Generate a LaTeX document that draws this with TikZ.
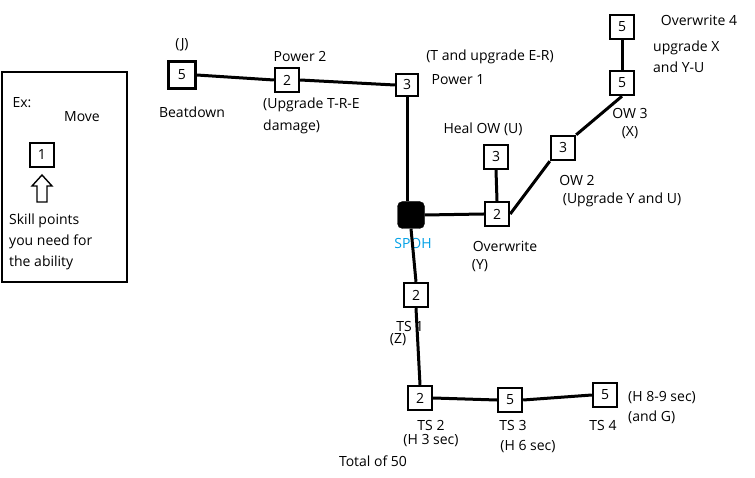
\documentclass[tikz,border=0pt]{standalone}
\usepackage{fontspec}
\setmainfont{Open Sans}
\usetikzlibrary{arrows.meta}

\begin{document}
\begin{tikzpicture}[x=1pt,y=-1pt,
    box/.style={draw,line width=2.4pt,minimum size=24pt,inner sep=0pt,font=\fontsize{14}{16}\selectfont},
    lbl/.style={font=\fontsize{14}{16}\selectfont,inner sep=0pt,align=left},
    link/.style={line width=3pt}]
    \useasboundingbox (0,0) rectangle (755,478);

	% Legend
	\draw[line width=2.2pt] (2,72) rectangle (127,282);
	\node[lbl] at (22,103) {Ex:};
	\node[lbl] at (82,117) {Move};
	\node[box] (ex) at (42,155) {1};
	\draw[line width=1.4pt] (37,202) -- (37,186) -- (32,186) -- (42,175) -- (52,186) -- (47,186) -- (47,202) -- cycle;
	\node[lbl,anchor=west,font=\fontsize{14}{21}\selectfont] at (9,242) {Skill points\\you need for\\the ability};

	% Power branch
	\node[box,minimum size=27pt] (beat) at (182,75) {5};
	\node[lbl] at (182,45) {(J)};
	\node[lbl] at (192,112) {Beatdown};
	\node[box] (pw2) at (287,80) {2};
	\node[lbl] at (300,57) {Power 2};
	\node[lbl,anchor=west,font=\fontsize{14}{22}\selectfont] at (263,116) {(Upgrade T-R-E\\damage)};
	\node[box,minimum size=22pt] (pw1) at (407,85) {3};
	\node[lbl] at (490,57) {(T and upgrade E-R)};
	\node[lbl] at (458,80) {Power 1};

	% Centre
	\node[fill,draw,rounded corners=5pt,minimum size=27pt] (spoh) at (411,215) {};
	\node[lbl,text={rgb,255:red,0;green,160;blue,230}] at (413,243) {SPOH};

	% Overwrite branch
	\node[box] (ow) at (497,214) {2};
	\node[lbl] at (505,246) {Overwrite};
	\node[lbl] at (480,266) {(Y)};
	\node[box] (heal) at (496,157) {3};
	\node[lbl] at (483,129) {Heal OW (U)};
	\node[box] (ow2) at (563,148) {3};
	\node[lbl] at (577,180) {OW 2};
	\node[lbl] at (622,200) {(Upgrade Y and U)};
	\node[box] (ow3) at (622,83) {5};
	\node[lbl] at (630,113) {OW 3};
	\node[lbl] at (630,133) {(X)};
	\node[box] (ow4) at (622,27) {5};
	\node[lbl] at (699,20) {Overwrite 4};
	\node[lbl,align=left,anchor=west,font=\fontsize{14}{21}\selectfont] at (653,57) {upgrade X\\and Y-U};

	% TS branch
	\node[box] (ts1) at (416,295) {2};
	\node[lbl] at (410,326) {TS 1};
	\node[lbl] at (398,340) {(Z)};
	\node[box] (ts2) at (420,398) {2};
	\node[lbl] at (431,425) {TS 2};
	\node[lbl] at (431,441) {(H 3 sec)};
	\node[lbl] at (373,461) {Total of 50};
	\node[box] (ts3) at (510,400) {5};
	\node[lbl] at (513,425) {TS 3};
	\node[lbl] at (528,447) {(H 6 sec)};
	\node[box] (ts4) at (605,395) {5};
	\node[lbl] at (603,425) {TS 4};
	\node[lbl,anchor=west,font=\fontsize{14}{20}\selectfont] at (628,408) {(H 8-9 sec)\\(and G)};

	% Links
	\draw[link] (beat.east) -- (pw2.west);
	\draw[link] (pw2.east) -- (pw1.west);
	\draw[link] (pw1.south) -- (pw1.south |- spoh.north);
	\draw[link] (spoh.east) -- (ow.west);
	\draw[link] (ow.north) -- (heal.south);
	\draw[link] (ow.east) -- (ow2.south west);
	\draw[link] (ow2.north east) -- (ow3.south);
	\draw[link] (ow3.north) -- (ow4.south);
	\draw[link] (spoh.south) -- (ts1.north);
	\draw[link] (ts1.south) -- (ts2.north);
	\draw[link] (ts2.east) -- (ts3.west);
	\draw[link] (ts3.east) -- (ts4.west);
\end{tikzpicture}
\end{document}
